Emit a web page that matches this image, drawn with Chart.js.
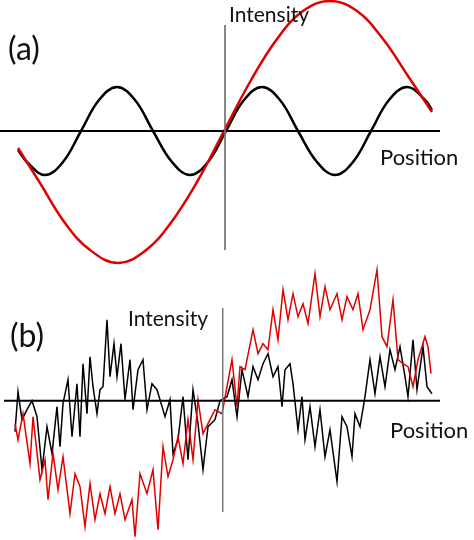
<!DOCTYPE html>
<html>
<head>
<meta charset="utf-8">
<script src="https://cdn.jsdelivr.net/npm/chart.js@4"></script>
<style>
  html, body { margin: 0; padding: 0; background: #fff; }
  #wrap { width: 474px; height: 540px; }
</style>
</head>
<body>
<div id="wrap"><canvas id="c"></canvas></div>
<script>
// ===== data (x = position, y = intensity relative to each panel's axis) =====
const redAX = [18, 40, 65, 90, 118, 145, 170, 197, 224, 250, 277, 303, 330, 357, 383, 408, 432];
const redAY = [-17, -52, -92, -119, -132, -120, -93, -51, 0, 49, 92, 120, 130, 120, 92, 55, 19];

const blackAX = [18, 27, 45, 63, 81, 99, 117, 135, 153, 172, 190, 208, 226, 244, 262, 280, 298, 317, 335, 353, 371, 389, 407, 425, 432];
const blackAY = [-19, -31, -44, -31, 0, 31, 44, 31, 0, -31, -44, -31, 0, 31, 44, 31, 0, -31, -44, -31, 0, 31, 44, 31, 21];

const blackBX = [15, 18, 22, 27, 32, 37, 42, 47, 52, 57, 60, 63, 68, 72, 77, 80, 83, 87, 90, 93, 97, 100, 103, 107, 110, 114, 117, 121, 125, 130, 133, 138, 143, 147, 152, 157, 160, 165, 170, 173, 178, 183, 188, 193, 198, 203, 208, 215, 220, 227, 232, 237, 242, 248, 253, 258, 263, 268, 273, 278, 282, 285, 290, 293, 298, 302, 305, 310, 315, 320, 325, 330, 337, 342, 347, 352, 355, 360, 365, 370, 375, 380, 385, 390, 395, 400, 405, 408, 413, 417, 423, 427, 432];
const blackBY = [-31, 9, -19, -9, 0, -16, -69, -26, -53, -6, -46, -3, 21, -36, 17, -36, 37, -13, 44, 14, -13, 11, 14, 81, 24, 57, 24, 57, 1, 41, -9, 31, 41, -9, 17, 11, 1, -16, 1, -53, -39, 4, -59, 11, -23, -69, -26, -19, 0, 4, 21, -16, 31, 4, 34, 21, 37, 47, 24, 34, -6, 31, 37, 17, -29, 4, -39, -6, -46, -9, -56, -29, -81, -16, -26, -56, -13, -26, 4, 41, 7, 44, 14, 51, 31, 54, 24, 4, 61, 11, 54, 14, 7];

const redBX = [15, 18, 23, 30, 33, 40, 45, 48, 53, 58, 63, 70, 75, 80, 85, 90, 95, 100, 105, 110, 115, 120, 125, 132, 135, 140, 147, 153, 158, 163, 168, 173, 178, 183, 188, 193, 198, 203, 208, 215, 222, 227, 232, 237, 240, 245, 253, 258, 263, 268, 273, 278, 283, 288, 293, 298, 303, 308, 315, 320, 325, 330, 337, 342, 347, 353, 358, 363, 370, 377, 382, 387, 393, 398, 403, 408, 413, 418, 425, 428, 431];
const redBY = [-23, -39, -13, -63, -16, -79, -59, -99, -53, -89, -56, -113, -73, -86, -126, -83, -119, -93, -113, -86, -113, -93, -119, -99, -136, -73, -93, -69, -129, -46, -76, -59, -36, -63, -19, -59, 1, -33, -23, -9, -13, 14, 41, -6, 34, 31, 71, 47, 57, 51, 91, 61, 111, 81, 107, 84, 97, 77, 127, 84, 114, 91, 107, 81, 104, 91, 107, 71, 91, 131, 64, 54, 101, 41, 37, 34, 14, 41, 64, 54, 27];

const axisA = 131;   // page y of panel (a) baseline
const axisB = 400.7; // page y of panel (b) baseline

const toPts = (xs, ys, base) => xs.map((x, i) => ({ x, y: base - ys[i] }));

const labels = [
    { t: '(a)', x: 8, y: 60, size: 32 },
    { t: 'Intensity', x: 229, y: 22, size: 21 },
    { t: 'Position', x: 380, y: 165, size: 22 },
    { t: '(b)', x: 10, y: 347, size: 32 },
    { t: 'Intensity', x: 128, y: 326, size: 21 },
    { t: 'Position', x: 390, y: 438, size: 22 },
];

const textPlugin = {
    id: 'texts',
    afterDatasetsDraw(chart) {
        const ctx = chart.ctx;
        ctx.save();
        ctx.fillStyle = '#111';
        ctx.textBaseline = 'alphabetic';
        labels.forEach(l => {
            ctx.font = `${l.size}px Lato, "Open Sans", sans-serif`;
            ctx.fillText(l.t, l.x, l.y);
        });
        ctx.restore();
    }
};

const line = (data, color, width, tension) => ({
    data, borderColor: color, borderWidth: width, pointRadius: 0,
    tension, fill: false, showLine: true,
});

new Chart(document.getElementById('c'), {
    type: 'scatter',
    data: {
        datasets: [
            line([{ x: 225, y: 25 }, { x: 225, y: 250 }], '#777', 1, 0),
            line([{ x: 222.7, y: 308 }, { x: 222.7, y: 512 }], '#777', 1, 0),
            line([{ x: 0, y: axisA }, { x: 440, y: axisA }], '#000', 2, 0),
            line([{ x: 4, y: axisB }, { x: 440, y: axisB }], '#000', 2, 0),
            line(toPts(redAX, redAY, axisA), '#e00000', 2.5, 0.4),
            line(toPts(blackAX, blackAY, axisA), '#000', 2.5, 0.4),
            line(toPts(redBX, redBY, axisB), '#e00000', 1.5, 0),
            line(toPts(blackBX, blackBY, axisB), '#000', 1.5, 0),
        ]
    },
    options: {
        responsive: true,
        maintainAspectRatio: false,
        animation: false,
        layout: { padding: 0 },
        scales: {
            x: { type: 'linear', min: 0, max: 474, display: false },
            y: { type: 'linear', min: 0, max: 540, reverse: true, display: false },
        },
        plugins: { legend: { display: false }, tooltip: { enabled: false } }
    },
    plugins: [textPlugin]
});
</script>
</body>
</html>
